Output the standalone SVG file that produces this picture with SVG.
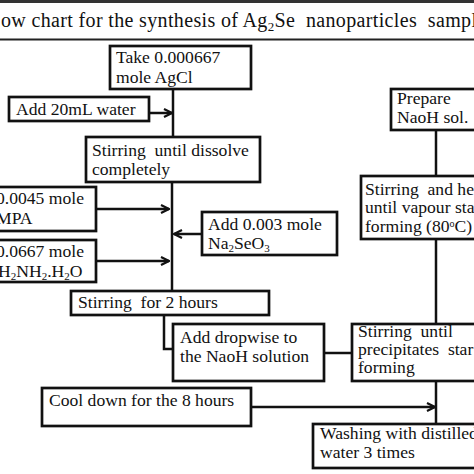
<svg xmlns="http://www.w3.org/2000/svg" width="474" height="474" viewBox="0 0 474 474">
<defs>
<style>
.box{fill:#fff;stroke:#111;stroke-width:2.7}
.ln{fill:none;stroke:#111;stroke-width:2.5}
.t{font-family:"Liberation Serif","Times New Roman",serif;font-size:17.6px;fill:#111}
.ti{font-family:"Liberation Serif","Times New Roman",serif;font-size:20px;fill:#111}
</style>
<marker id="ah" viewBox="0 0 10 10" refX="9" refY="5" markerWidth="10" markerHeight="10" markerUnits="userSpaceOnUse" orient="auto">
<path d="M1,1 L9,5 L1,9" fill="none" stroke="#111" stroke-width="2.2"/>
</marker>
</defs>
<rect x="0" y="0" width="474" height="474" fill="#fff"/>
<rect x="0" y="0" width="474" height="3" fill="#333"/>
<line x1="0" y1="39.5" x2="474" y2="39.5" stroke="#222" stroke-width="2"/>
<text class="ti" x="1" y="27" xml:space="preserve" textLength="476" lengthAdjust="spacing">ow chart for the synthesis of Ag<tspan font-size="13" dy="4">2</tspan><tspan dy="-4">Se  nanoparticles  sampl</tspan></text>

<g id="connectors">
<line class="ln" x1="173" y1="89" x2="173" y2="137"/>
<line class="ln" x1="149" y1="113" x2="172" y2="113" marker-end="url(#ah)"/>
<line class="ln" x1="172" y1="182" x2="172" y2="292"/>
<line class="ln" x1="96" y1="209" x2="169" y2="209" marker-end="url(#ah)"/>
<line class="ln" x1="96" y1="261" x2="169" y2="261" marker-end="url(#ah)"/>
<line class="ln" x1="202" y1="234" x2="174" y2="234" marker-end="url(#ah)"/>
<polyline class="ln" points="164,315 164,349 173,349"/>
<line class="ln" x1="324" y1="353" x2="352" y2="353"/>
<line class="ln" x1="436" y1="130" x2="436" y2="176"/>
<line class="ln" x1="436" y1="239" x2="436" y2="324"/>
<line class="ln" x1="436" y1="381" x2="436" y2="424"/>
<line class="ln" x1="251" y1="407" x2="435" y2="407" marker-end="url(#ah)"/>
</g>

<g id="n-agcl">
<rect class="box" x="110" y="46" width="141" height="43"/>
<text class="t" x="116" y="63">Take 0.000667</text>
<text class="t" x="116" y="83">mole AgCl</text>
</g>
<g id="n-water">
<rect class="box" x="9" y="97" width="140" height="24"/>
<text class="t" x="16" y="115">Add 20mL water</text>
</g>
<g id="n-dissolve">
<rect class="box" x="86" y="137" width="174" height="45"/>
<text class="t" x="92" y="156" xml:space="preserve">Stirring  until dissolve</text>
<text class="t" x="92" y="175">completely</text>
</g>
<g id="n-mpa">
<rect class="box" x="-10" y="187" width="106" height="44"/>
<text class="t" x="-4" y="204">0.0045 mole</text>
<text class="t" x="-4" y="224">MPA</text>
</g>
<g id="n-hydrazine">
<rect class="box" x="-10" y="240" width="106" height="42"/>
<text class="t" x="-4" y="257">0.0667 mole</text>
<text class="t" x="-2" y="277">H<tspan font-size="11" dy="3">2</tspan><tspan dy="-3">NH</tspan><tspan font-size="11" dy="3">2</tspan><tspan dy="-3">.H</tspan><tspan font-size="11" dy="3">2</tspan><tspan dy="-3">O</tspan></text>
</g>
<g id="n-na2seo3">
<rect class="box" x="202" y="212" width="135" height="43"/>
<text class="t" x="208" y="230">Add 0.003 mole</text>
<text class="t" x="208" y="249">Na<tspan font-size="11" dy="3">2</tspan><tspan dy="-3">SeO</tspan><tspan font-size="11" dy="3">3</tspan></text>
</g>
<g id="n-2hours">
<rect class="box" x="71" y="291" width="198" height="24"/>
<text class="t" x="78" y="308" xml:space="preserve">Stirring  for 2 hours</text>
</g>
<g id="n-dropwise">
<rect class="box" x="173" y="324" width="151" height="57"/>
<text class="t" x="180" y="343">Add dropwise to</text>
<text class="t" x="180" y="362">the NaoH solution</text>
</g>
<g id="n-naoh">
<rect class="box" x="391" y="89" width="90" height="41"/>
<text class="t" x="397" y="104">Prepare</text>
<text class="t" x="397" y="123">NaoH sol.</text>
</g>
<g id="n-heat">
<rect class="box" x="361" y="176" width="120" height="63"/>
<text class="t" x="365" y="195" xml:space="preserve">Stirring  and he</text>
<text class="t" x="365" y="213">until vapour sta</text>
<text class="t" x="365" y="232">forming (80<tspan font-size="10" dy="-5">o</tspan><tspan dy="5">C)</tspan></text>
</g>
<g id="n-precip">
<rect class="box" x="352" y="324" width="129" height="57"/>
<text class="t" x="358" y="337" xml:space="preserve">Stirring  until</text>
<text class="t" x="358" y="355" xml:space="preserve">precipitates  star</text>
<text class="t" x="358" y="373">forming</text>
</g>
<g id="n-cool">
<rect class="box" x="42" y="388" width="209" height="38"/>
<text class="t" x="49" y="406">Cool down for the 8 hours</text>
</g>
<g id="n-wash">
<rect class="box" x="313" y="424" width="168" height="44"/>
<text class="t" x="320" y="439">Washing with distilled</text>
<text class="t" x="320" y="458">water 3 times</text>
</g>
</svg>
